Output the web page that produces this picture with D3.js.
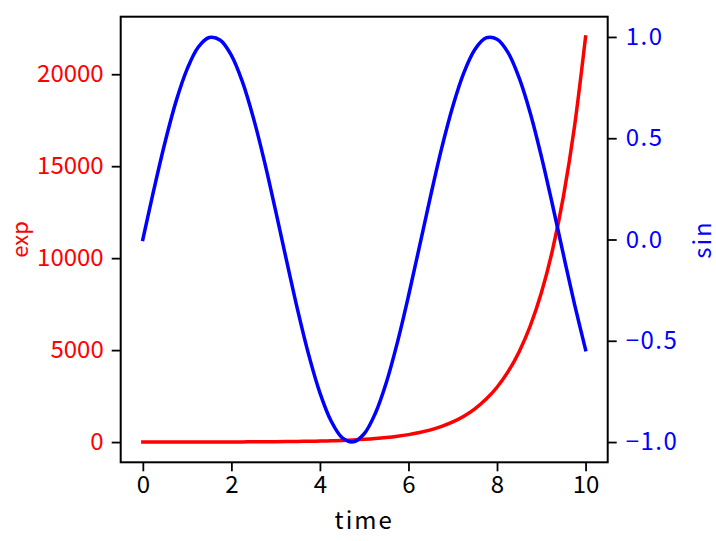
<!DOCTYPE html>
<html>
<head>
<meta charset="utf-8">
<script src="https://cdn.jsdelivr.net/npm/d3@7"></script>
<style>
  body { margin: 0; background: #fff; }
  text { font-family: "Noto Sans CJK SC", "DejaVu Sans", sans-serif; }
</style>
</head>
<body>
<svg id="chart" width="716" height="541"></svg>
<script>
// sample times and the two series
var times = [0, 0.25, 0.5, 0.75, 1, 1.25, 1.5, 1.75, 2, 2.25, 2.5, 2.75, 3, 3.25, 3.5, 3.75, 4, 4.25, 4.5, 4.75, 5,
             5.25, 5.5, 5.75, 6, 6.25, 6.5, 6.75, 7, 7.25, 7.5, 7.75, 8, 8.25, 8.5, 8.75, 9, 9.25, 9.5, 9.75, 10];
var expValues = [1, 1.284, 1.649, 2.117, 2.718, 3.49, 4.482, 5.755, 7.389, 9.488, 12.18, 15.64, 20.09, 25.79, 33.12,
                 42.52, 54.6, 70.11, 90.02, 115.6, 148.4, 190.6, 244.7, 314.2, 403.4, 518.0, 665.1, 854.1, 1096.6,
                 1408.1, 1808.0, 2321.6, 2981.0, 3827.6, 4914.8, 6310.7, 8103.1, 10404.6, 13359.7, 17154.2, 22026.5];
var sinValues = [0, 0.247, 0.479, 0.682, 0.841, 0.949, 0.997, 0.984, 0.909, 0.778, 0.598, 0.382, 0.141, -0.108,
                 -0.351, -0.572, -0.757, -0.895, -0.978, -0.999, -0.959, -0.859, -0.706, -0.508, -0.279, -0.033,
                 0.215, 0.451, 0.657, 0.823, 0.938, 0.995, 0.989, 0.923, 0.798, 0.625, 0.412, 0.174, -0.075,
                 -0.319, -0.544];

var xTicks = [0, 2, 4, 6, 8, 10];
var expTicks = [0, 5000, 10000, 15000, 20000];
var sinTicks = [-1.0, -0.5, 0.0, 0.5, 1.0];

var svg = d3.select("#chart");

var plotLeft = 120.7, plotRight = 607.7, plotTop = 16.7, plotBottom = 462.3;

var x = d3.scaleLinear().domain([-0.5, 10.5]).range([plotLeft, plotRight]);

// 5% margins like matplotlib autoscale
var expMin = d3.min(expValues), expMax = d3.max(expValues);
var pad = (expMax - expMin) * 0.05;
var yExp = d3.scaleLinear().domain([expMin - pad, expMax + pad]).range([plotBottom, plotTop]);
var ySin = d3.scaleLinear().domain([-1.1, 1.1]).range([plotBottom, plotTop]);

var data = times.map(function(t, i) { return {t: t, e: expValues[i], s: sinValues[i]}; });

var expLine = d3.line()
    .x(function(d) { return x(d.t); })
    .y(function(d) { return yExp(d.e); })
    .curve(d3.curveMonotoneX);

var sinLine = d3.line()
    .x(function(d) { return x(d.t); })
    .y(function(d) { return ySin(d.s); })
    .curve(d3.curveCatmullRom);

svg.append("path")
    .datum(data)
    .attr("d", expLine)
    .attr("fill", "none")
    .attr("stroke", "#ff0000")
    .attr("stroke-width", 3.5)
    .attr("stroke-linecap", "square");

svg.append("path")
    .datum(data)
    .attr("d", sinLine)
    .attr("fill", "none")
    .attr("stroke", "#0000ff")
    .attr("stroke-width", 3.5)
    .attr("stroke-linecap", "square");

// axes
var fontSize = "24px";

var xAxis = svg.append("g")
    .attr("transform", "translate(0," + plotBottom + ")")
    .call(d3.axisBottom(x).tickValues(xTicks).tickSize(9).tickPadding(5).tickFormat(d3.format("d")));

var leftAxis = svg.append("g")
    .attr("transform", "translate(" + plotLeft + ",0)")
    .call(d3.axisLeft(yExp).tickValues(expTicks).tickSize(9).tickPadding(8).tickFormat(d3.format("d")));

var rightAxis = svg.append("g")
    .attr("transform", "translate(" + plotRight + ",0)")
    .call(d3.axisRight(ySin).tickValues(sinTicks).tickSize(9).tickPadding(9)
          .tickFormat(function(d) { return d3.format(".1f")(d).replace("-", "\u2212"); }));

[xAxis, leftAxis, rightAxis].forEach(function(g) {
  g.select(".domain").remove();
  g.selectAll(".tick line").attr("stroke", "#000").attr("stroke-width", 1.8);
  g.selectAll(".tick text").attr("font-size", fontSize).attr("font-family", null);
});
xAxis.selectAll(".tick text").attr("fill", "#000");
leftAxis.selectAll(".tick text").attr("fill", "#ff0000");
rightAxis.selectAll(".tick text").attr("fill", "#0000ff").attr("letter-spacing", "1.5px");

// frame
svg.append("rect")
    .attr("x", plotLeft)
    .attr("y", plotTop)
    .attr("width", plotRight - plotLeft)
    .attr("height", plotBottom - plotTop)
    .attr("fill", "none")
    .attr("stroke", "#000")
    .attr("stroke-width", 2);

// labels
svg.append("text")
    .attr("x", (plotLeft + plotRight) / 2)
    .attr("y", 529)
    .attr("text-anchor", "middle")
    .attr("font-size", fontSize)
    .attr("letter-spacing", "2px")
    .attr("fill", "#000")
    .text("time");

svg.append("text")
    .attr("transform", "translate(18," + ((plotTop + plotBottom) / 2) + ") rotate(-90)")
    .attr("text-anchor", "middle")
    .attr("dominant-baseline", "central")
    .attr("font-size", "22px")
    .attr("fill", "#ff0000")
    .text("exp");

svg.append("text")
    .attr("transform", "translate(700," + ((plotTop + plotBottom) / 2) + ") rotate(-90)")
    .attr("text-anchor", "middle")
    .attr("dominant-baseline", "central")
    .attr("font-size", fontSize)
    .attr("letter-spacing", "2px")
    .attr("fill", "#0000ff")
    .text("sin");
</script>
</body>
</html>
